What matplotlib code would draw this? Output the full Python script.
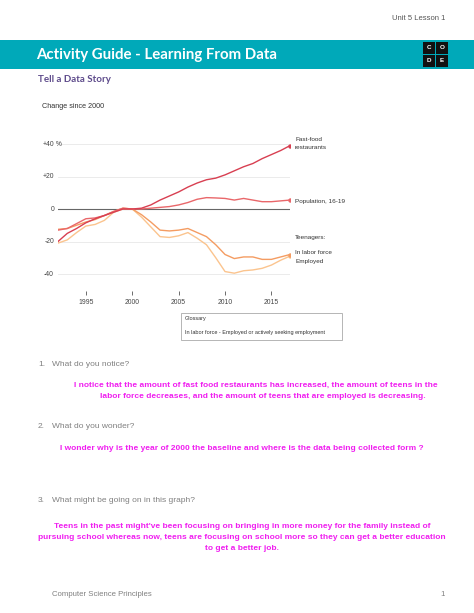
import numpy as np
import matplotlib.pyplot as plt
from matplotlib.patches import Rectangle

# данные графика (изменение с 2000 года, %)
years = list(range(1992, 2018))
fast_food = [-20, -15, -12, -8.5, -6, -4, -2, 0, 0, 0.5, 2.5, 5.5, 8, 10.5, 13.5, 16,
             18, 19, 21, 23.5, 26, 28, 31, 33.5, 36, 39]
population = [-13, -12, -9, -6, -5.5, -4, -1.5, 0.5, 0, 0, 0.5, 1, 1.5, 2.5, 4, 6,
              7, 6.8, 6.5, 5.5, 6.5, 5.5, 4.5, 4.5, 5, 5.5]
labor_force = [-12.5, -12, -10, -8, -6.5, -4, -1.5, 0.5, 0, -3.5, -8, -13, -13.5, -13, -12, -14.5,
               -17, -22, -28, -30.5, -29.5, -29.5, -31, -31, -29.5, -28]
employed = [-21, -19, -14.5, -10.5, -9.5, -7, -2, 0, 0, -5, -11, -17, -17.5, -16.5, -14.5, -18,
            -22, -30, -38.5, -39.5, -38, -37.5, -36.5, -34.5, -31.5, -29]

x_ticks = [1995, 2000, 2005, 2010, 2015]
y_grid = [40, 20, -20, -40]
y_labels = ['+40', '+20', '0', '-20', '-40']
y_label_vals = [40, 20, 0, -20, -40]

W, H = 474, 613
def fx(x):
    return x / W
def fy(y):
    return 1 - y / H

plt.rcParams['font.family'] = ['Liberation Sans', 'DejaVu Sans']

fig = plt.figure(figsize=(W / 100, H / 100), dpi=100)
fig.patch.set_facecolor('white')

# шапка страницы
fig.text(fx(445), fy(19), 'Unit 5 Lesson 1', ha='right', va='center', fontsize=5.5, color='#555555')
fig.add_artist(Rectangle((0, fy(69)), 1, 29 / H, transform=fig.transFigure, color='#00a9b9', lw=0))
fig.text(fx(36), fy(55.5), 'Activity Guide - Learning From Data', ha='left', va='center',
         fontsize=10.8, fontweight='bold', color='white', family=['Lato', 'DejaVu Sans'])

# логотип code.org
for i, letter in enumerate(['C', 'O', 'D', 'E']):
    cx = 423 + (i % 2) * 13
    cy = 42 + (i // 2) * 13
    fig.add_artist(Rectangle((fx(cx), fy(cy + 11.5)), 11.5 / W, 11.5 / H, transform=fig.transFigure,
                             color='#111111', lw=0))
    fig.text(fx(cx + 5.75), fy(cy + 5.9), letter, ha='center', va='center', fontsize=4.5,
             color='white', fontweight='bold')

fig.text(fx(38), fy(79), 'Tell a Data Story', ha='left', va='center', fontsize=7,
         fontweight='bold', color='#5e4b8b', family=['Lato', 'DejaVu Sans'])
fig.text(fx(42), fy(107), 'Change since 2000', ha='left', va='center', fontsize=5.2, color='#333333')

# график
ax = fig.add_axes([fx(58), fy(291), 232 / W, (291 - 137.5) / H])
ax.set_xlim(1992, 2017)
ax.set_ylim(-50.46, 44)
for g in y_grid:
    ax.axhline(g, color='#e8e8e8', lw=0.6, zorder=0)
ax.axhline(0, color='#666666', lw=0.8, zorder=1)

ax.plot(years, employed, color='#fbc48e', lw=1.0, zorder=2)
ax.plot(years, labor_force, color='#f49c62', lw=1.0, zorder=3)
ax.plot(years, population, color='#e9676a', lw=1.0, zorder=4)
ax.plot(years, fast_food, color='#d83f51', lw=1.0, zorder=5)
ax.plot(years[-1], employed[-1], 'o', color='#fbc48e', ms=2.2, zorder=6)
ax.plot(years[-1], labor_force[-1], 'o', color='#f49c62', ms=2.2, zorder=6)
ax.plot(years[-1], population[-1], 'o', color='#e9676a', ms=2.2, zorder=6)
ax.plot(years[-1], fast_food[-1], 'o', color='#d83f51', ms=2.2, zorder=6)

for s in ax.spines.values():
    s.set_visible(False)
ax.set_yticks([])
ax.set_xticks(x_ticks)
ax.tick_params(axis='x', length=3, width=0.6, color='#555555', pad=2.5, labelsize=4.9,
               labelcolor='#444444')

ytr = ax.get_yaxis_transform()
for v, lab in zip(y_label_vals, y_labels):
    ax.text(-0.017, v, lab, transform=ytr, ha='right', va='center', fontsize=4.9, color='#444444')
ax.text(-0.017, 40, ' %', transform=ytr, ha='left', va='center', fontsize=4.9, color='#444444')

lx = 1.022
ax.text(lx, 42.6, 'Fast-food', transform=ytr, ha='left', va='center', fontsize=4.6, color='#333333')
ax.text(lx, 38.1, 'restaurants', transform=ytr, ha='left', va='center', fontsize=4.6, color='#333333')
ax.text(lx, 4.9, 'Population, 16-19', transform=ytr, ha='left', va='center', fontsize=4.6, color='#333333')
ax.text(lx, -17.8, 'Teenagers:', transform=ytr, ha='left', va='center', fontsize=4.6, color='#333333')
ax.text(lx, -26.9, 'In labor force', transform=ytr, ha='left', va='center', fontsize=4.6, color='#333333')
ax.text(lx, -32.2, 'Employed', transform=ytr, ha='left', va='center', fontsize=4.6, color='#333333')

# глоссарий
fig.add_artist(Rectangle((fx(181), fy(340)), 161 / W, 27 / H, transform=fig.transFigure,
                         facecolor='white', edgecolor='#aaaaaa', lw=0.6))
fig.text(fx(185), fy(318.5), 'Glossary', ha='left', va='center', fontsize=4.0, color='#333333')
fig.text(fx(185), fy(332.5), 'In labor force - Employed or actively seeking employment',
         ha='left', va='center', fontsize=4.0, color='#333333')

# вопросы и ответы
q_color = '#808080'
a_color = '#f01ef0'
q_size = 6.0
a_size = 6.05
fig.text(fx(38), fy(365), '1.', ha='left', va='center', fontsize=q_size, color=q_color)
fig.text(fx(51.5), fy(365), 'What do you notice?', ha='left', va='center', fontsize=q_size, color=q_color)
fig.text(fx(256), fy(385), 'I notice that the amount of fast food restaurants has increased, the amount of teens in the',
         ha='center', va='center', fontsize=a_size, fontweight='bold', color=a_color)
fig.text(fx(263), fy(396), 'labor force decreases, and the amount of teens that are employed is decreasing.',
         ha='center', va='center', fontsize=a_size, fontweight='bold', color=a_color)

fig.text(fx(38), fy(427), '2.', ha='left', va='center', fontsize=q_size, color=q_color)
fig.text(fx(51.5), fy(427), 'What do you wonder?', ha='left', va='center', fontsize=q_size, color=q_color)
fig.text(fx(242), fy(449), 'I wonder why is the year of 2000 the baseline and where is the data being collected form ?',
         ha='center', va='center', fontsize=a_size, fontweight='bold', color=a_color)

fig.text(fx(38), fy(500), '3.', ha='left', va='center', fontsize=q_size, color=q_color)
fig.text(fx(51.5), fy(500), 'What might be going on in this graph?', ha='left', va='center', fontsize=q_size, color=q_color)
fig.text(fx(242), fy(526), "Teens in the past might've been focusing on bringing in more money for the family instead of",
         ha='center', va='center', fontsize=a_size, fontweight='bold', color=a_color)
fig.text(fx(242), fy(537.5), 'pursuing school whereas now, teens are focusing on school more so they can get a better education',
         ha='center', va='center', fontsize=a_size, fontweight='bold', color=a_color)
fig.text(fx(242), fy(549), 'to get a better job.',
         ha='center', va='center', fontsize=a_size, fontweight='bold', color=a_color)

# подвал
fig.text(fx(51.5), fy(594), 'Computer Science Principles', ha='left', va='center', fontsize=5.6, color=q_color)
fig.text(fx(445), fy(594), '1', ha='right', va='center', fontsize=5.6, color=q_color)

fig.savefig('out.png', dpi=100)
